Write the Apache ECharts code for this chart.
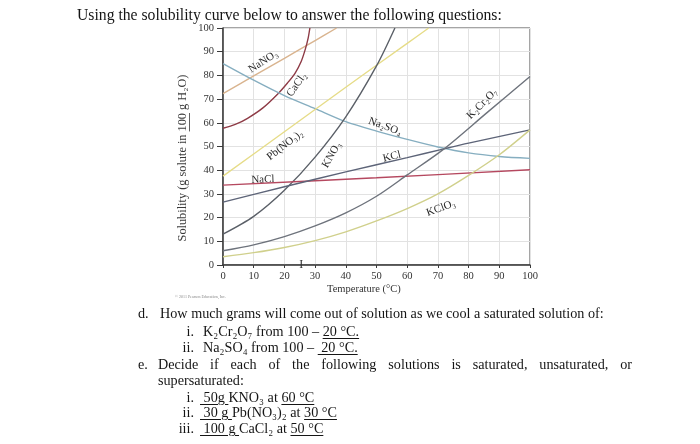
<!DOCTYPE html>
<html>
<head>
<meta charset="utf-8">
<script src="https://cdn.jsdelivr.net/npm/echarts@6/dist/echarts.min.js"></script>
<style>
  html, body { margin: 0; padding: 0; background: #fff; }
  #wrap { position: relative; width: 700px; height: 444px; overflow: hidden; font-family: "Liberation Serif", serif; color: #151515; }
  #chart { position: absolute; left: 0; top: 0; width: 700px; height: 444px; }
  .t { position: absolute; white-space: nowrap; font-size: 14.2px; line-height: 16px; }
  .m { position: absolute; white-space: nowrap; font-size: 14.2px; line-height: 16px; text-align: right; width: 30px; }
  u { text-underline-offset: 2px; text-decoration-thickness: 1px; }
</style>
</head>
<body>
<div id="wrap">
  <div id="chart"></div>
  <div class="t" style="left:77px;top:7px;font-size:15.7px;">Using the solubility curve below to answer the following questions:</div>
  <div id="questions"></div>
</div>
<script>
// temperature (°C) / solubility (g per 100 g water)
const nano3 = [[0, 72.3], [10, 79.8], [20, 87.2], [30, 94.7], [37, 100]];
const cacl2 = [[0, 57.7], [4, 59.3], [8, 61.9], [13, 66.3], [18, 72.4], [21, 76.8], [23.5, 81], [25.5, 86], [26.8, 91], [27.7, 95.5], [28.3, 100]];
const na2so4 = [[0, 85], [10, 78], [20, 71.5], [30, 66], [40, 60.5], [50, 56.5], [60, 53], [70, 49.8], [80, 47.3], [90, 45.8], [100, 45]];
const pbno32 = [[0, 37.5], [20, 56.2], [40, 75], [60, 93.5], [67, 100]];
const kno3 = [[0, 13], [10, 20.5], [20, 31.5], [30, 45.5], [40, 62.5], [50, 84], [56, 100]];
const nacl = [[0, 33.7], [50, 36.8], [100, 40.2]];
const kcl = [[0, 26.5], [20, 33], [40, 39.3], [60, 45.3], [72, 49], [80, 51.4], [100, 57]];
const kclo3 = [[0, 3.5], [10, 5.2], [20, 7.4], [30, 10.3], [40, 14], [50, 18.6], [60, 23.8], [70, 30], [80, 37.8], [90, 46.5], [100, 57]];
const k2cr2o7 = [[0, 6], [10, 8.5], [20, 12], [30, 16.5], [40, 22], [50, 29], [60, 38], [72, 49], [86, 64.3], [100, 79.5]];

const xTicks = [0, 10, 20, 30, 40, 50, 60, 70, 80, 90, 100];
const yTicks = [0, 10, 20, 30, 40, 50, 60, 70, 80, 90, 100];

const curves = [
  { name: 'NaNO₃', data: nano3, color: '#d9b48f' },
  { name: 'CaCl₂', data: cacl2, color: '#8e3b46' },
  { name: 'Na₂SO₄', data: na2so4, color: '#86aec0' },
  { name: 'Pb(NO₃)₂', data: pbno32, color: '#e6dc88' },
  { name: 'KNO₃', data: kno3, color: '#5b6068' },
  { name: 'NaCl', data: nacl, color: '#b5485f' },
  { name: 'KCl', data: kcl, color: '#5d6478' },
  { name: 'KClO₃', data: kclo3, color: '#d0d08c' },
  { name: 'K₂Cr₂O₇', data: k2cr2o7, color: '#6e737c' }
];

// curve labels: [text, temp, solubility, angle in degrees]
const curveLabels = [
  ['NaNO₃', 13.1, 85.8, 33],
  ['CaCl₂', 24, 76, 55],
  ['Pb(NO₃)₂', 20.2, 50.6, 38],
  ['KNO₃', 35.4, 46.4, 60],
  ['Na₂SO₄', 52.8, 58.4, -20],
  ['KCl', 55, 45.7, 14],
  ['NaCl', 13, 36, 2],
  ['KClO₃', 71, 24, 20],
  ['K₂Cr₂O₇', 84.4, 68, 45]
];

const font = '"Liberation Serif", serif';
const chart = echarts.init(document.getElementById('chart'), null, { renderer: 'canvas' });

const option = {
  backgroundColor: '#fff',
  animation: false,
  grid: { left: 223, top: 28, width: 307, height: 237, show: true, borderColor: '#4a4a4a', borderWidth: 1 },
  xAxis: {
    type: 'value', min: 0, max: 100, interval: 10,
    axisLine: { show: true, onZero: false, lineStyle: { color: '#3a3a3a', width: 1.5 } },
    axisTick: { show: true, length: 3, lineStyle: { color: '#3a3a3a' } },
    axisLabel: { fontFamily: font, fontSize: 10.5, color: '#333', margin: 6,
      formatter: v => xTicks.indexOf(v) >= 0 ? String(v) : '' },
    splitLine: { show: true, lineStyle: { color: '#e2e2e2', width: 1 } }
  },
  yAxis: {
    type: 'value', min: 0, max: 100, interval: 10,
    axisLine: { show: true, onZero: false, lineStyle: { color: '#3a3a3a', width: 1.5 } },
    axisTick: { show: true, length: 6, lineStyle: { color: '#3a3a3a' } },
    axisLabel: { fontFamily: font, fontSize: 10.5, color: '#333', margin: 9,
      formatter: v => yTicks.indexOf(v) >= 0 ? String(v) : '' },
    splitLine: { show: true, lineStyle: { color: '#e2e2e2', width: 1 } }
  },
  series: curves.map(c => ({
    name: c.name,
    type: 'line',
    data: c.data,
    smooth: 0.3,
    symbol: 'none',
    clip: true,
    lineStyle: { color: c.color, width: 1.4 }
  }))
};
chart.setOption(option);

const graphics = curveLabels.map(([text, t, s, deg]) => {
  const p = chart.convertToPixel({ gridIndex: 0 }, [t, s]);
  return {
    type: 'text', x: p[0], y: p[1], rotation: deg * Math.PI / 180,
    style: { text: text, font: '11px ' + font, fill: '#2a2a2a', align: 'center', verticalAlign: 'middle' }
  };
});

// y axis title, with "100" underlined
const yFont = '12.3px ' + font;
const ctx = document.createElement('canvas').getContext('2d');
ctx.font = yFont;
const yPre = 'Solubility (g solute in ', yNum = '100', yPost = ' g H₂O)';
const wPre = ctx.measureText(yPre).width;
const wNum = ctx.measureText(yNum).width;
const wAll = ctx.measureText(yPre + yNum + yPost).width;
graphics.push({
  type: 'group', x: 183, y: 158, rotation: Math.PI / 2,
  children: [
    { type: 'text', x: 0, y: 0,
      style: { text: yPre + yNum + yPost, font: yFont, fill: '#3a3a3a', align: 'center', verticalAlign: 'middle' } },
    { type: 'line',
      shape: { x1: -wAll / 2 + wPre, y1: 6.5, x2: -wAll / 2 + wPre + wNum, y2: 6.5 },
      style: { stroke: '#3a3a3a', lineWidth: 0.8 } }
  ]
});

// stray text-cursor mark sitting on the temperature axis
const cur = chart.convertToPixel({ gridIndex: 0 }, [25.5, 0]);
graphics.push({
  type: 'text', x: cur[0], y: cur[1], z: 100,
  style: { text: 'I', font: '12px ' + font, fill: '#333', align: 'center', verticalAlign: 'middle' }
});
graphics.push({
  type: 'text', x: 327, y: 284,
  style: { text: 'Temperature (°C)', font: '10.5px ' + font, fill: '#333' }
});
graphics.push({
  type: 'text', x: 175, y: 295,
  style: { text: '© 2011 Pearson Education, Inc.', font: '4px ' + font, fill: '#888' }
});
chart.setOption({ graphic: graphics });

// worksheet questions
const qLines = [
  ['d.', 138, 160, 313, 'How much grams will come out of solution as we cool a saturated solution of:'],
  ['i.', 194, 203, 331, 'K₂Cr₂O₇ from 100 – <u>20 °C.</u>'],
  ['ii.', 194, 203, 347, 'Na₂SO₄ from 100 – <u>&nbsp;20 °C.</u>'],
  ['e.', 138, 158, 364, null],
  ['', 0, 158, 380, 'supersaturated:'],
  ['i.', 194, 200, 397, '<u>&nbsp;50g </u>KNO₃ at <u>60 °C</u>'],
  ['ii.', 194, 200, 412, '<u>&nbsp;30 g </u>Pb(NO₃)₂ at <u>30 °C</u>'],
  ['iii.', 194, 200, 428, '<u>&nbsp;100 g </u>CaCl₂ at <u>50 °C</u>']
];
const qBox = document.getElementById('questions');
qLines.forEach(([mk, mx, tx, y, html]) => {
  if (mk) {
    const m = document.createElement('div');
    if (mk === 'd.' || mk === 'e.') {
      m.className = 't';
      m.style.left = mx + 'px';
    } else {
      m.className = 'm';
      m.style.left = (mx - 30) + 'px';
    }
    m.style.top = (y - 8) + 'px';
    m.textContent = mk;
    qBox.appendChild(m);
  }
  const d = document.createElement('div');
  d.className = 't';
  d.style.left = tx + 'px';
  d.style.top = (y - 8) + 'px';
  if (html === null) {
    d.style.width = '474px';
    d.style.whiteSpace = 'normal';
    d.style.textAlign = 'justify';
    d.style.textAlignLast = 'justify';
    d.textContent = 'Decide if each of the following solutions is saturated, unsaturated, or';
  } else {
    d.innerHTML = html;
  }
  qBox.appendChild(d);
});
</script>
</body>
</html>
